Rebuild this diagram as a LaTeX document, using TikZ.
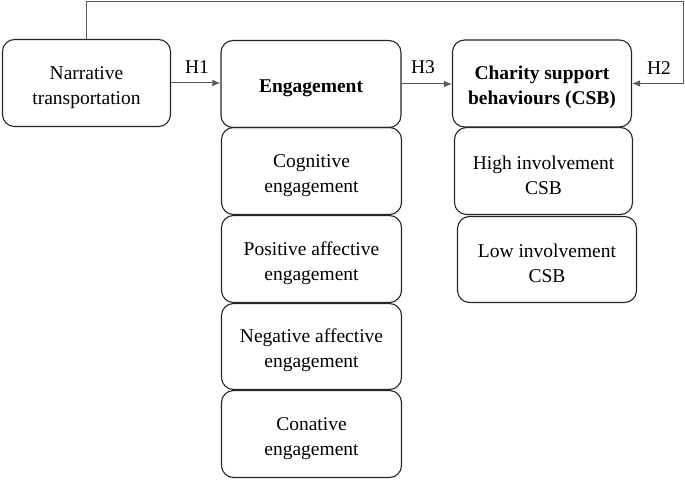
\documentclass[tikz,border=0pt]{standalone}
\usepackage{fontspec}
\setmainfont{Liberation Serif}
\usetikzlibrary{arrows.meta}
\newcommand{\fstrut}{\rule{0pt}{22pt}}
\begin{document}
\begin{tikzpicture}[x=1pt,y=-1pt,
  box/.style={draw=black!85, line width=1.1pt, rounded corners=12pt, align=center,
    inner sep=0pt, font=\fontsize{19.5}{25}\selectfont},
  bbox/.style={box, font=\fontsize{19.5}{25}\selectfont\bfseries},
  conn/.style={draw=black!65, line width=1pt, -{Latex[length=8pt,width=6.5pt]}},
  hlab/.style={font=\fontsize{19.5}{22}\selectfont, inner sep=0pt}]
\useasboundingbox (0,0) rectangle (685,481);
\node[box, minimum width=168pt, minimum height=87pt] (narr) at (86.5,83) {\fstrut Narrative\\transportation};
\node[bbox, minimum width=180pt, minimum height=87pt] (eng) at (311,84) {\rule{0pt}{20.5pt}Engagement};
\node[box, minimum width=180pt, minimum height=87pt] (cog) at (311.5,171) {\fstrut Cognitive\\engagement};
\node[box, minimum width=180pt, minimum height=87pt] (pos) at (311.5,259) {\fstrut Positive affective\\engagement};
\node[box, minimum width=180pt, minimum height=86pt] (neg) at (311.5,346.5) {\fstrut Negative affective\\engagement};
\node[box, minimum width=180pt, minimum height=87pt] (con) at (311.5,434) {\fstrut Conative\\engagement};
\node[bbox, minimum width=179pt, minimum height=87pt] (csb) at (542,83.5) {\fstrut Charity support\\behaviours (CSB)};
\node[box, minimum width=178pt, minimum height=87pt] (high) at (543.5,171) {\fstrut High involvement\\CSB};
\node[box, minimum width=179pt, minimum height=86pt] (low) at (547,259.5) {\fstrut Low involvement\\CSB};
\coordinate (tr) at (683,1.5);
\draw[conn] (narr.east) -- (eng.west |- narr.east);
\draw[conn] (eng.east) -- (csb.west |- eng.east);
\draw[conn] (narr.north) |- (tr) |- (csb.east);
\node[hlab] (h1) at (197,67) {H1};
\node[hlab] (h3) at (423,67) {H3};
\node[hlab] (h2) at (659,68) {H2};
\end{tikzpicture}
\end{document}
